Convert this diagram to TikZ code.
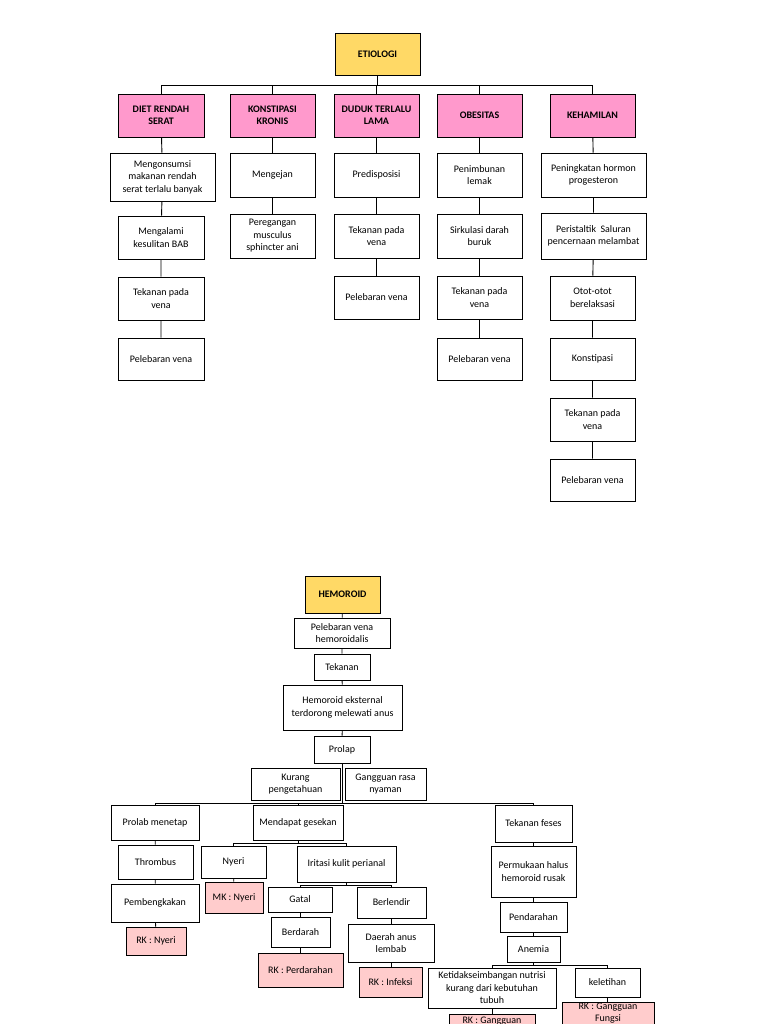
\documentclass[tikz,border=0pt]{standalone}
\usepackage{fontspec}
\setmainfont{Carlito}
\definecolor{gold}{HTML}{FFD966}
\definecolor{pinkh}{HTML}{FF99CC}
\definecolor{pinkl}{HTML}{FFCCCC}
\newcommand\bx[7]{\node[#6, minimum width={#4-#2}, minimum height={#5-#3}] (#1) at ({(#2+#4)/2},{(#3+#5)/2}) {#7};}
\tikzset{
 base/.style={draw, line width=0.9pt, inner sep=0pt, align=center, font=\fontsize{10}{12.5}\selectfont},
 wb/.style={base, fill=white},
 gb/.style={base, fill=gold, font=\fontsize{10}{12.5}\selectfont\bfseries},
 pb/.style={base, fill=pinkh, font=\fontsize{10}{12.5}\selectfont\bfseries},
 rb/.style={base, fill=pinkl},
 ln/.style={line width=0.9pt}
}
\begin{document}
\begin{tikzpicture}[x=1pt,y=-1pt]
\clip (0,0) rectangle (768,1024);
\fill[white] (0,0) rectangle (768,1024);
% ETIOLOGI
\bx{etio}{335}{33}{420}{75}{gb}{ETIOLOGI}
\bx{diet}{118}{94}{204}{137}{pb}{DIET RENDAH\\SERAT}
\bx{kons}{230}{94}{315}{137}{pb}{KONSTIPASI\\KRONIS}
\bx{dud}{334}{94}{419}{137}{pb}{DUDUK TERLALU\\LAMA}
\bx{obe}{437}{94}{522}{137}{pb}{OBESITAS}
\bx{keh}{550}{94}{635}{137}{pb}{KEHAMILAN}
\coordinate (b1) at (0,85);
\draw[ln] (etio.south) -- (etio.south|-b1);
\draw[ln] (diet.north) -- (diet.north|-b1) -- (keh.north|-b1) -- (keh.north);
\foreach \n in {kons,dud,obe} \draw[ln] (\n.north) -- (\n.north|-b1);
% col1
\bx{a1}{110}{153}{215}{201}{wb}{Mengonsumsi\\makanan rendah\\serat terlalu banyak}
\bx{a2}{118}{216}{204}{259}{wb}{Mengalami\\kesulitan BAB}
\bx{a3}{118}{277}{204}{320}{wb}{Tekanan pada\\vena}
\bx{a4}{118}{338}{204}{380}{wb}{Pelebaran vena}
\draw[ln] (diet)--(a1) (a1)--(a2) (a2)--(a3) (a3)--(a4);
% col2
\bx{k1}{230}{153}{315}{197}{wb}{Mengejan}
\bx{k2}{230}{214}{315}{258}{wb}{Peregangan\\musculus\\sphincter ani}
\draw[ln] (kons)--(k1) (k1)--(k2);
% col3
\bx{d1}{334}{153}{419}{197}{wb}{Predisposisi}
\bx{d2}{334}{214}{419}{258}{wb}{Tekanan pada\\vena}
\bx{d3}{334}{276}{419}{319}{wb}{Pelebaran vena}
\draw[ln] (dud)--(d1) (d1)--(d2) (d2)--(d3);
% col4
\bx{o1}{437}{153}{522}{197}{wb}{Penimbunan\\lemak}
\bx{o2}{437}{214}{522}{258}{wb}{Sirkulasi darah\\buruk}
\bx{o3}{437}{276}{522}{319}{wb}{Tekanan pada\\vena}
\bx{o4}{437}{338}{522}{380}{wb}{Pelebaran vena}
\draw[ln] (obe)--(o1) (o1)--(o2) (o2)--(o3) (o3)--(o4);
% col5
\bx{h1}{541}{153}{646}{197}{wb}{Peningkatan hormon\\progesteron}
\bx{h2}{541}{213}{646}{259}{wb}{Peristaltik\ \ Saluran\\pencernaan melambat}
\bx{h3}{550}{276}{635}{320}{wb}{Otot-otot\\berelaksasi}
\bx{h4}{550}{338}{635}{380}{wb}{Konstipasi}
\bx{h5}{550}{398}{635}{441}{wb}{Tekanan pada\\vena}
\bx{h6}{550}{459}{635}{501}{wb}{Pelebaran vena}
\draw[ln] (keh)--(h1) (h1)--(h2) (h2)--(h3) (h3)--(h4) (h4)--(h5) (h5)--(h6);
% HEMOROID
\bx{hem}{305}{576}{380}{613}{gb}{HEMOROID}
\bx{p1}{294}{618}{390}{648}{wb}{Pelebaran vena\\hemoroidalis}
\bx{p2}{314}{654}{370}{680}{wb}{Tekanan}
\bx{p3}{283}{685}{402}{730}{wb}{Hemoroid eksternal\\terdorong melewati anus}
\bx{p4}{314}{736}{370}{763}{wb}{Prolap}
\draw[ln] (hem)--(p1) (p1)--(p2) (p2)--(p3) (p3)--(p4);
\bx{kp}{251}{768}{340}{800}{wb}{Kurang\\pengetahuan}
\bx{gr}{345}{768}{426}{800}{wb}{Gangguan rasa\\nyaman}
\coordinate (b2) at (0,803);
\bx{pm}{111}{805}{199}{840}{wb}{Prolab menetap}
\bx{mg}{253}{805}{343}{840}{wb}{Mendapat gesekan}
\bx{tf}{495}{805}{572}{842}{wb}{Tekanan feses}
\draw[ln] (p4.south) -- (p4.south|-b2);
\draw[ln] (pm.north) -- (pm.north|-b2) -- (tf.north|-b2) -- (tf.north);
\draw[ln] (mg.north) -- (mg.north|-b2);
% left chain
\bx{th}{118}{845}{193}{879}{wb}{Thrombus}
\bx{pb}{111}{884}{199}{922}{wb}{Pembengkakan}
\bx{rk1}{126}{927}{186}{955}{rb}{RK : Nyeri}
\draw[ln] (pm)--(th) (th)--(pb) (pb)--(rk1);
% gesekan
\bx{ny}{201}{846}{266}{878}{wb}{Nyeri}
\bx{ir}{297}{846}{396}{882}{wb}{Iritasi kulit perianal}
\coordinate (b3) at (0,843);
\draw[ln] (mg.south) -- (mg.south|-b3);
\draw[ln] (ny.north) -- (ny.north|-b3) -- (ir.north|-b3) -- (ir.north);
\bx{mk}{205}{882}{263}{913}{rb}{MK : Nyeri}
\draw[ln] (ny)--(mk);
\coordinate (b4) at (0,885);
\bx{ga}{268}{887}{332}{912}{wb}{Gatal}
\bx{be}{357}{887}{426}{918}{wb}{Berlendir}
\draw[ln] (ir.south) -- (ir.south|-b4);
\draw[ln] (ga.north) -- (ga.north|-b4) -- (be.north|-b4) -- (be.north);
\bx{bd}{271}{917}{330}{947}{wb}{Berdarah}
\bx{rk2}{258}{953}{343}{987}{rb}{RK : Perdarahan}
\draw[ln] (ga.south) -- (ga.south|-bd.north) (bd.south) -- (bd.south|-rk2.north);
\bx{da}{348}{924}{434}{962}{wb}{Daerah anus\\lembab}
\bx{rk3}{359}{967}{422}{997}{rb}{RK : Infeksi}
\draw[ln] (be.south) -- (be.south|-da.north) (da.south) -- (da.south|-rk3.north);
% right chain
\bx{ph}{491}{846}{576}{897}{wb}{Permukaan halus\\hemoroid rusak}
\bx{pd}{500}{902}{567}{932}{wb}{Pendarahan}
\bx{an}{507}{936}{560}{962}{wb}{Anemia}
\draw[ln] (tf)--(ph) (ph)--(pd) (pd)--(an);
\coordinate (b5) at (0,965);
\bx{kn}{428}{968}{556}{1008}{wb}{Ketidakseimbangan nutrisi\\kurang dari kebutuhan\\tubuh}
\bx{kl}{575}{968}{640}{997}{wb}{keletihan}
\draw[ln] (an.south) -- (an.south|-b5);
\draw[ln] (kn.north) -- (kn.north|-b5) -- (kl.north|-b5) -- (kl.north);
\bx{rk4}{449}{1014}{535}{1050}{rb}{}
\node[font=\fontsize{10}{12.5}\selectfont, anchor=north] at (rk4.north) {RK : Gangguan};
\bx{rk5}{562}{1002}{654}{1050}{rb}{}
\node[font=\fontsize{10}{12.5}\selectfont, anchor=north, align=center, inner sep=1pt] at (rk5.north) {RK : Gangguan\\Fungsi};
\draw[ln] (kn.south) -- (kn.south|-rk4.north) (kl.south) -- (kl.south|-rk5.north);
\end{tikzpicture}
\end{document}
